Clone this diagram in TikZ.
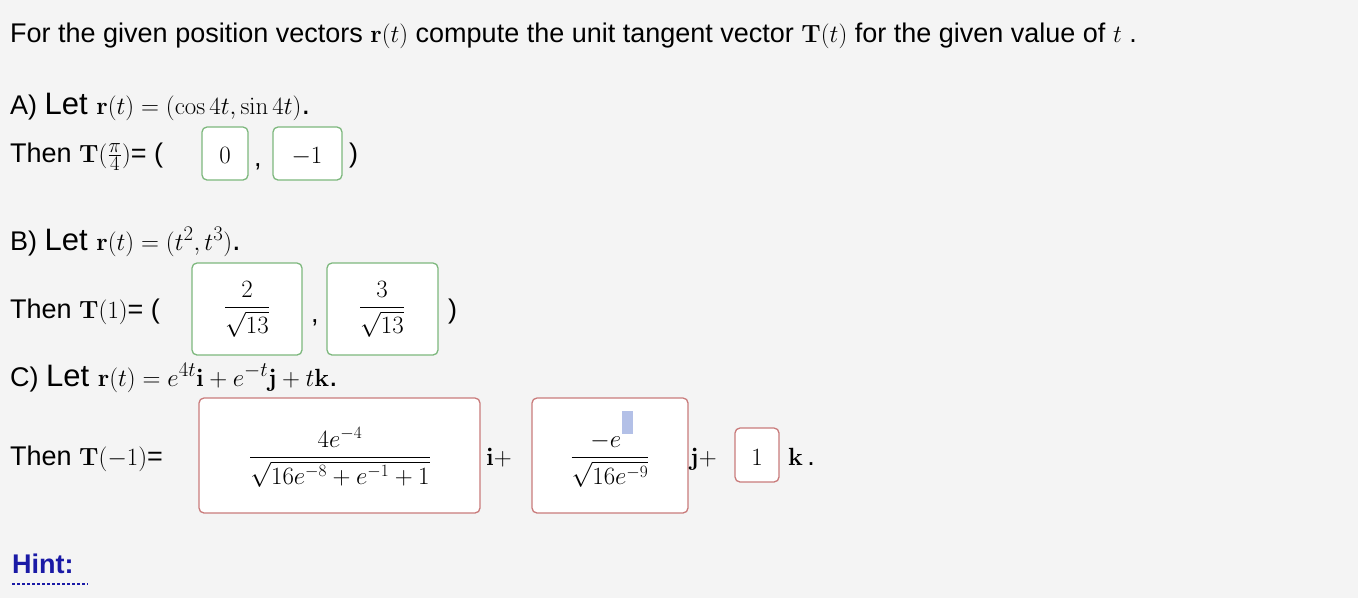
\documentclass[tikz,border=0pt]{standalone}
\usepackage{amsmath}
\usepackage[no-math]{fontspec}
\setmainfont{Liberation Sans}
\newcommand{\tf}{\fontsize{27}{32}\selectfont}
\newcommand{\mf}{\fontsize{31}{36}\selectfont}
\begin{document}
\begin{tikzpicture}[x=1pt,y=-1pt,
  txt/.style={anchor=base west,inner sep=0pt,font=\tf},
  mth/.style={anchor=base west,inner sep=0pt,font=\mf}]
\definecolor{bg}{HTML}{F4F4F4}
\definecolor{gb}{HTML}{7DB87D}
\definecolor{rb}{HTML}{C97B7B}
\definecolor{hint}{HTML}{1A1AA6}
\tikzset{gbox/.style={draw=gb,line width=1.3pt,fill=white,rounded corners=5pt},
  rbox/.style={draw=rb,line width=1.3pt,fill=white,rounded corners=5pt}}
\fill[bg] (0,0) rectangle (1358,598);
\useasboundingbox (0,0) rectangle (1358,598);
\node[txt] (l1) at (10,42) {For the given position vectors \mf$\mathbf{r}(t)$\tf{} compute the unit tangent vector \mf$\mathbf{T}(t)$\tf{} for the given value of \mf$t$\tf{} .};
% A
\node[txt] (a1) at (10,114) {A) \mf Let $\mathbf{r}(t)=(\cos 4t,\sin 4t)$.};
\node[txt] (a2) at (10,162) {Then \mf$\mathbf{T}(\frac{\pi}{4})$\tf= (};
\draw[gbox] (202,127) rectangle (248,180);
\node[mth,anchor=base] (a3) at (225,163) {$0$};
\node[txt] (ac) at (254,166) {,};
\draw[gbox] (273,127) rectangle (342,180);
\node[mth,anchor=base] (a4) at (307,163) {$-1$};
\node[txt] (ap) at (349,162) {)};
% B
\node[txt] (b1) at (10,250) {B) \mf Let $\mathbf{r}(t)=(t^2,t^3)$.};
\node[txt] (b2) at (10,318) {Then \mf$\mathbf{T}(1)$\tf= (};
\draw[gbox] (192,263) rectangle (302,355);
\node[mth,anchor=center] (b3) at (247,309) {$\dfrac{2}{\sqrt{13}}$};
\node[txt] (bc) at (311,322) {,};
\draw[gbox] (327,263) rectangle (438,355);
\node[mth,anchor=center] (b4) at (382,309) {$\dfrac{3}{\sqrt{13}}$};
\node[txt] (bp) at (448,318) {)};
% C
\node[txt] (c1) at (10,386) {C) \mf Let $\mathbf{r}(t)=e^{4t}\mathbf{i}+e^{-t}\mathbf{j}+t\mathbf{k}$.};
\node[txt] (c2) at (10,465) {Then \mf$\mathbf{T}(-1)$\tf=};
\draw[rbox] (199,398) rectangle (480,513);
\node[mth,anchor=center,font=\fontsize{26}{30}\selectfont] (c3) at (340,457) {$\dfrac{4e^{-4}}{\sqrt{16e^{-8}+e^{-1}+1}}$};
\node[mth] (ci) at (486,465) {$\mathbf{i}+$};
\draw[rbox] (532,398) rectangle (688,513);
\node[mth,anchor=center,font=\fontsize{26}{30}\selectfont] (c4) at (610,457) {$\dfrac{-e\phantom{^{1}}}{\sqrt{16e^{-9}}}$};
\fill[cyan!40!blue!30] (622,411) rectangle (633,434);
\node[mth] (cj) at (690,465) {$\mathbf{j}+$};
\draw[rbox] (735,428) rectangle (779,482);
\node[mth,anchor=base] (c5) at (757,465) {$1$};
\node[mth] (ck) at (788,465) {$\mathbf{k}$\tf\,.};
% Hint
\node[txt,text=hint,font=\tf\bfseries] (h) at (12,573) {Hint:};
\draw[hint,line width=2.5pt,dash pattern=on 2.5pt off 2.5pt] (h.base west)++(0,11) -- ++(76,0);
\end{tikzpicture}
\end{document}
